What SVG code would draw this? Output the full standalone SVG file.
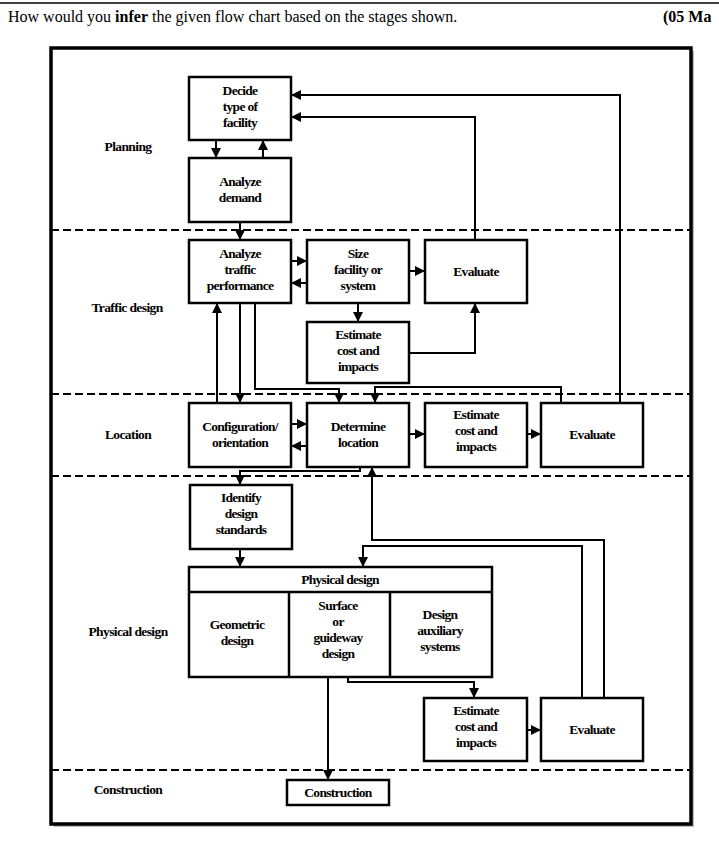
<svg xmlns="http://www.w3.org/2000/svg" width="719" height="842" viewBox="0 0 719 842">
<defs>
<marker id="a" viewBox="0 0 10 10" refX="9" refY="5" markerWidth="5" markerHeight="5" orient="auto"><path d="M0,0 L10,5 L0,10 z" fill="#000"/></marker>
<style>
.b{fill:#fff;stroke:#000;stroke-width:2.5}
.t{font-family:"Liberation Serif",serif;font-size:13.5px;font-weight:bold;text-anchor:middle;letter-spacing:-0.7px}
.s{font-family:"Liberation Serif",serif;font-size:13.5px;font-weight:bold;text-anchor:middle;letter-spacing:-0.6px}
.d{stroke:#000;stroke-width:2.2;stroke-dasharray:8,4}
.c path{fill:none;stroke:#000;stroke-width:2}
</style>
</defs>
<rect width="719" height="842" fill="#fff"/>
<text x="8" y="22" font-family="Liberation Serif,serif" font-size="16">How would you <tspan font-weight="bold">infer</tspan> the given flow chart based on the stages shown.</text>
<text x="663" y="22" font-family="Liberation Serif,serif" font-size="16" font-weight="bold">(05 Ma</text>
<line x1="0" y1="3" x2="719" y2="3" stroke="#000" stroke-width="1.5"/>
<rect x="54" y="51" width="640" height="776" fill="#bbb"/>
<rect x="51" y="48" width="640" height="776" fill="#fff" stroke="#000" stroke-width="3.5"/>
<g>
<line class="d" x1="51" y1="230" x2="691" y2="230"/>
<line class="d" x1="51" y1="394" x2="691" y2="394"/>
<line class="d" x1="51" y1="476" x2="691" y2="476"/>
<line class="d" x1="51" y1="770" x2="691" y2="770"/>
</g>
<g class="s">
<text x="128" y="151">Planning</text>
<text x="127" y="312">Traffic design</text>
<text x="128" y="439">Location</text>
<text x="128" y="636">Physical design</text>
<text x="128" y="794">Construction</text>
</g>
<g class="c">
<path d="M216,140V157" marker-end="url(#a)"/>
<path d="M263,158V141" marker-end="url(#a)"/>
<path d="M240,222V239" marker-end="url(#a)"/>
<path d="M291,261H306" marker-end="url(#a)"/>
<path d="M307,283H292" marker-end="url(#a)"/>
<path d="M409,271H424" marker-end="url(#a)"/>
<path d="M358,303V321" marker-end="url(#a)"/>
<path d="M409,353H475V304" marker-end="url(#a)"/>
<path d="M475,240V117H292" marker-end="url(#a)"/>
<path d="M620,403V95H292" marker-end="url(#a)"/>
<path d="M217,403V304" marker-end="url(#a)"/>
<path d="M240,303V402" marker-end="url(#a)"/>
<path d="M255,303V389H339V402" marker-end="url(#a)"/>
<path d="M561,403V387H375V402" marker-end="url(#a)"/>
<path d="M291,424H306" marker-end="url(#a)"/>
<path d="M307,446H292" marker-end="url(#a)"/>
<path d="M409,434H424" marker-end="url(#a)"/>
<path d="M527,434H540" marker-end="url(#a)"/>
<path d="M360,467V471H240V484" marker-end="url(#a)"/>
<path d="M240,549V566" marker-end="url(#a)"/>
<path d="M604,698V540H372V468" marker-end="url(#a)"/>
<path d="M582,698V546H363V566" marker-end="url(#a)"/>
<path d="M348,677V682H474V697" marker-end="url(#a)"/>
<path d="M328,677V779" marker-end="url(#a)"/>
<path d="M527,730H540" marker-end="url(#a)"/>
</g>
<g id="decide"><rect class="b" x="189" y="77" width="102" height="63"/><text class="t" x="240" y="95">Decide</text><text class="t" x="240" y="111">type of</text><text class="t" x="240" y="127">facility</text></g>
<g id="demand"><rect class="b" x="189" y="158" width="102" height="64"/><text class="t" x="240" y="186">Analyze</text><text class="t" x="240" y="202">demand</text></g>
<g id="traffic"><rect class="b" x="189" y="240" width="102" height="63"/><text class="t" x="240" y="258">Analyze</text><text class="t" x="240" y="274">traffic</text><text class="t" x="240" y="290">performance</text></g>
<g id="size"><rect class="b" x="307" y="240" width="102" height="63"/><text class="t" x="358" y="258">Size</text><text class="t" x="358" y="274">facility or</text><text class="t" x="358" y="290">system</text></g>
<g id="eval1"><rect class="b" x="425" y="240" width="102" height="63"/><text class="t" x="476" y="276">Evaluate</text></g>
<g id="est1"><rect class="b" x="307" y="322" width="102" height="61"/><text class="t" x="358" y="339">Estimate</text><text class="t" x="358" y="355">cost and</text><text class="t" x="358" y="371">impacts</text></g>
<g id="config"><rect class="b" x="189" y="403" width="102" height="64"/><text class="t" x="240" y="431">Configuration/</text><text class="t" x="240" y="447">orientation</text></g>
<g id="determine"><rect class="b" x="307" y="403" width="102" height="64"/><text class="t" x="358" y="431">Determine</text><text class="t" x="358" y="447">location</text></g>
<g id="est2"><rect class="b" x="425" y="403" width="102" height="64"/><text class="t" x="476" y="419">Estimate</text><text class="t" x="476" y="435">cost and</text><text class="t" x="476" y="451">impacts</text></g>
<g id="eval2"><rect class="b" x="541" y="403" width="102" height="64"/><text class="t" x="592" y="439">Evaluate</text></g>
<g id="identify"><rect class="b" x="190" y="485" width="102" height="64"/><text class="t" x="241" y="502">Identify</text><text class="t" x="241" y="518">design</text><text class="t" x="241" y="534">standards</text></g>
<g id="physical"><rect class="b" x="189" y="567" width="303" height="110"/><line x1="189" y1="592" x2="492" y2="592" stroke="#000" stroke-width="2.5"/><line x1="289" y1="592" x2="289" y2="677" stroke="#000" stroke-width="2.5"/><line x1="390" y1="592" x2="390" y2="677" stroke="#000" stroke-width="2.5"/>
<text class="t" x="340" y="584">Physical design</text>
<text class="t" x="237" y="629">Geometric</text><text class="t" x="237" y="645">design</text>
<text class="t" x="338" y="610">Surface</text><text class="t" x="338" y="626">or</text><text class="t" x="338" y="642">guideway</text><text class="t" x="338" y="658">design</text>
<text class="t" x="440" y="619">Design</text><text class="t" x="440" y="635">auxiliary</text><text class="t" x="440" y="651">systems</text></g>
<g id="est3"><rect class="b" x="424" y="698" width="103" height="63"/><text class="t" x="476" y="715">Estimate</text><text class="t" x="476" y="731">cost and</text><text class="t" x="476" y="747">impacts</text></g>
<g id="eval3"><rect class="b" x="541" y="698" width="102" height="63"/><text class="t" x="592" y="734">Evaluate</text></g>
<g id="construction"><rect class="b" x="287" y="780" width="102" height="25"/><text class="t" x="338" y="797">Construction</text></g>
</svg>
